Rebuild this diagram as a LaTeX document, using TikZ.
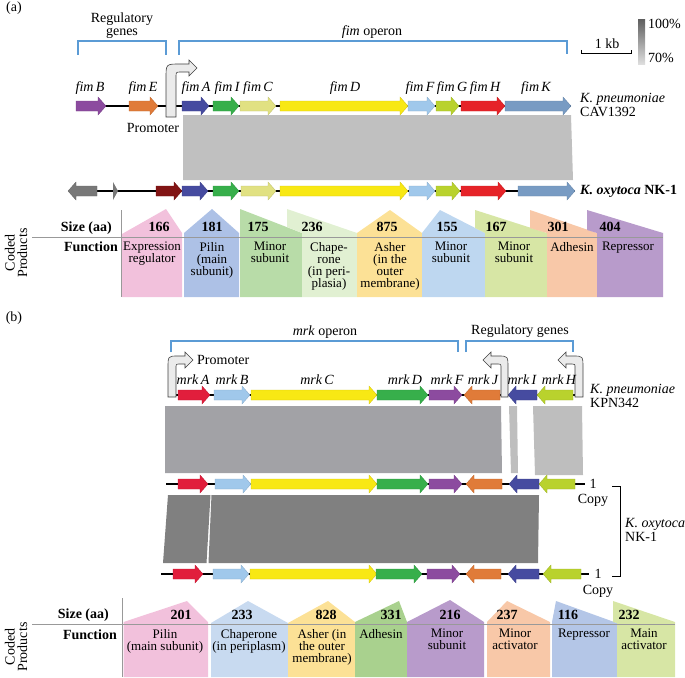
\documentclass[tikz,border=0pt]{standalone}
\usepackage{fontspec}
\setmainfont{Liberation Serif}
\usepackage{xcolor}
\usepackage{tikz}
\usetikzlibrary{positioning}
\definecolor{bracketblue}{HTML}{5B9BD5}
\definecolor{gpurple}{HTML}{8C4B9F}
\definecolor{gorange}{HTML}{E07B39}
\definecolor{gnavy}{HTML}{464BA0}
\definecolor{ggreen}{HTML}{37AF4B}
\definecolor{gkhaki}{HTML}{E1E182}
\definecolor{gyellow}{HTML}{F8E814}
\definecolor{gsky}{HTML}{A0C8EB}
\definecolor{glime}{HTML}{B9D22D}
\definecolor{gred}{HTML}{E62328}
\definecolor{gcrimson}{HTML}{E11E3C}
\definecolor{gsteel}{HTML}{789BC3}
\definecolor{ggray}{HTML}{787878}
\definecolor{gmaroon}{HTML}{821414}
\definecolor{ppink}{HTML}{F2C1DC}
\definecolor{pblue}{HTML}{ADC1E6}
\definecolor{pbluetwo}{HTML}{B4C6E7}
\definecolor{pgreen}{HTML}{B8DCA8}
\definecolor{pgreentwo}{HTML}{A9D18E}
\definecolor{pmint}{HTML}{E1F0D2}
\definecolor{pyellow}{HTML}{FCE196}
\definecolor{psky}{HTML}{BED7F0}
\definecolor{pskytwo}{HTML}{C8DAF0}
\definecolor{plime}{HTML}{D7E6A5}
\definecolor{ppeach}{HTML}{F8C8A8}
\definecolor{plilac}{HTML}{B89BCB}
\definecolor{blocka}{HTML}{C0C0C0}
\definecolor{blockb}{HTML}{A2A2A6}
\definecolor{blockc}{HTML}{BEBEBE}
\definecolor{blockd}{HTML}{808080}
% gene arrows: colour, start, tip, row
\newcommand{\gener}[4]{\filldraw[fill=#1, draw=#1!85!black, line width=0.3pt]
  (#2,#4-5) -- (#3-8,#4-5) -- (#3-8,#4-9) -- (#3,#4) -- (#3-8,#4+9) -- (#3-8,#4+5) -- (#2,#4+5) -- cycle;}
\newcommand{\genel}[4]{\filldraw[fill=#1, draw=#1!85!black, line width=0.3pt]
  (#2,#4) -- (#2+8,#4-9) -- (#2+8,#4-5) -- (#3,#4-5) -- (#3,#4+5) -- (#2+8,#4+5) -- (#2+8,#4+9) -- cycle;}

\begin{document}
\begin{tikzpicture}[x=1pt, y=-1pt,
  lbl/.style={font=\fontsize{14}{13.5}\selectfont, inner sep=0pt},
  genetxt/.style={font=\fontsize{14}{12}\selectfont\itshape, inner sep=0pt},
  numtxt/.style={font=\fontsize{14}{12}\selectfont\bfseries, inner sep=0pt},
  functxt/.style={font=\fontsize{13}{12}\selectfont, inner sep=0pt, align=center, anchor=north},
  brk/.style={bracketblue, line width=1.1pt},
  promo/.style={fill=black!8, draw=black!75, line width=0.6pt},
  dna/.style={line width=1.6pt}]
\useasboundingbox (0,0) rectangle (685,677);

%% (a) fim cluster
\node[lbl] (taga) at (14,8) {(a)};
\node[lbl, align=center, font=\fontsize{14}{13}\selectfont] (regla) at (122,26) {Regulatory\\genes};
\draw[brk] (78,55) -- (78,41) -- (166,41) -- (166,55);
\node[lbl] (fimop) at (372,32) {\textit{fim} operon};
\draw[brk] (179,55) -- (179,41) -- (567,41) -- (567,54);

% scale and identity
\node[lbl] (kb) at (607,44) {1 kb};
\draw[line width=0.8pt] (581,50) -- (581,53) -- (631,53) -- (631,50);
\shade[top color=black!62, bottom color=black!12] (638,20) rectangle (645,65);
\node[lbl, anchor=west] (hundred) at (648,24) {100\%};
\node[lbl, anchor=west] (seventy) at (648,58) {70\%};

\fill[blocka] (183,115) -- (571,115) -- (573,180) -- (183,180) -- cycle;

% K. pneumoniae CAV1392
\draw[dna] (76,106) -- (571,106);
\gener{gpurple}{76}{106}{106}
\gener{gorange}{129}{158}{106}
\gener{gnavy}{182}{209}{106}
\gener{ggreen}{213}{239}{106}
\gener{gkhaki}{240}{276}{106}
\gener{gyellow}{280}{408}{106}
\gener{gsky}{408}{435}{106}
\gener{glime}{436}{459}{106}
\gener{gred}{461}{505}{106}
\gener{gsteel}{505}{571}{106}
\filldraw[promo] (166,117) -- (166,78) .. controls (166,64) .. (180,64) -- (189,64) -- (189,60) -- (197,68)
  -- (189,76) -- (189,72) -- (181,72) .. controls (176,72) .. (176,77) -- (176,117) -- cycle;
\node[lbl] (proma) at (153,128) {Promoter};
\node[genetxt] (fimB) at (90,88) {fim\,B};
\node[genetxt] (fimE) at (143,88) {fim\,E};
\node[genetxt] (fimA) at (196,88) {fim\,A};
\node[genetxt] (fimI) at (227,88) {fim\,I};
\node[genetxt] (fimC) at (258,88) {fim\,C};
\node[genetxt] (fimD) at (345,88) {fim\,D};
\node[genetxt] (fimF) at (420,88) {fim\,F};
\node[genetxt] (fimG) at (452,88) {fim\,G};
\node[genetxt] (fimH) at (485,88) {fim\,H};
\node[genetxt] (fimK) at (536,88) {fim\,K};
\node[lbl, anchor=west, align=left] (kpa) at (580,105) {\textit{K. pneumoniae}\\CAV1392};

% K. oxytoca NK-1
\draw[dna] (80,191) -- (575,191);
\genel{ggray}{68}{97}{191}
\fill[ggray] (113,182) -- (118,191) -- (113,200) -- cycle;
\gener{gmaroon}{156}{182}{191}
\gener{gnavy}{182}{208}{191}
\gener{ggreen}{213}{239}{191}
\gener{gkhaki}{241}{276}{191}
\gener{gyellow}{280}{408}{191}
\gener{gsky}{409}{435}{191}
\gener{glime}{436}{460}{191}
\gener{gred}{461}{506}{191}
\gener{gsteel}{518}{575}{191}
\node[lbl, anchor=west] (koa) at (580,191) {\textbf{\textit{K. oxytoca}} \textbf{NK-1}};

% coded products (a)
\fill[ppink] (122,297) -- (122,234) -- (166,209) -- (182,233) -- (182,297) -- cycle;
\fill[pblue] (184,297) -- (184,233) -- (212,209) -- (239,233) -- (239,297) -- cycle;
\fill[pgreen] (240,297) -- (240,209) -- (302,233) -- (302,297) -- cycle;
\fill[pmint] (287,209) -- (357,233) -- (357,297) -- (302,297) -- (302,233) -- (287,227) -- cycle;
\fill[pyellow] (357,297) -- (357,233) -- (390,210) -- (422,233) -- (422,297) -- cycle;
\fill[psky] (422,297) -- (422,233) -- (440,210) -- (485,233) -- (485,297) -- cycle;
\fill[plime] (475,210) -- (547,233) -- (547,297) -- (485,297) -- (485,233) -- (475,228) -- cycle;
\fill[ppeach] (530,210) -- (597,233) -- (597,297) -- (547,297) -- (547,233) -- (530,228) -- cycle;
\fill[plilac] (587,210) -- (663,233) -- (663,297) -- (597,297) -- (597,233) -- (587,230) -- cycle;
\draw[black!40, line width=1pt] (32,237) -- (663,237);
\draw[black!40, line width=1pt] (121,210) -- (121,297);
\node[lbl, rotate=90, align=center, font=\fontsize{14}{12.5}\selectfont] (cpa) at (16,253) {Coded\\Products};
\node[numtxt, anchor=east] (sizea) at (112,228) {Size (aa)};
\node[numtxt, anchor=east] (funca) at (118,247) {Function};
\node[numtxt] (na1) at (159,227) {166};
\node[numtxt] (na2) at (212,227) {181};
\node[numtxt] (na3) at (258,227) {175};
\node[numtxt] (na4) at (312,227) {236};
\node[numtxt] (na5) at (387,227) {875};
\node[numtxt] (na6) at (447,227) {155};
\node[numtxt] (na7) at (496,227) {167};
\node[numtxt] (na8) at (558,227) {301};
\node[numtxt] (na9) at (610,227) {404};
\node[functxt] (fa1) at (152,242) {Expression\\regulator};
\node[functxt] (fa2) at (212,242) {Pilin\\(main\\subunit)};
\node[functxt] (fa3) at (270,242) {Minor\\subunit};
\node[functxt] (fa4) at (329,242) {Chape-\\rone\\(in peri-\\plasia)};
\node[functxt] (fa5) at (390,242) {Asher\\(in the\\outer\\membrane)};
\node[functxt] (fa6) at (451,242) {Minor\\subunit};
\node[functxt] (fa7) at (514,242) {Minor\\subunit};
\node[functxt] (fa8) at (572,242) {Adhesin};
\node[functxt] (fa9) at (628,242) {Repressor};

%% (b) mrk cluster
\node[lbl] (tagb) at (14,318) {(b)};
\node[lbl] (mrkop) at (325,332) {\textit{mrk} operon};
\draw[brk] (171,352) -- (171,341) -- (458,341) -- (458,352);
\node[lbl] (reglb) at (520,331) {Regulatory genes};
\draw[brk] (466,352) -- (466,341) -- (573,341) -- (573,352);

\fill[blockb] (165,406) -- (501,406) -- (502,473) -- (165,473) -- cycle;
\fill[blockc] (509,406) -- (517,406) -- (518,473) -- (511,473) -- cycle;
\fill[blockc] (533,406) -- (582,406) -- (583,475) -- (535,475) -- cycle;
\fill[blockd] (168,495) -- (210.5,495) -- (206.5,563) -- (163,563) -- cycle;
\fill[blockd] (211.5,495) -- (539,495) -- (538,563) -- (208.5,563) -- cycle;

% K. pneumoniae KPN342
\draw[dna] (168,395) -- (583,395);
\gener{gcrimson}{178}{210}{395}
\gener{gsky}{214}{250}{395}
\gener{gyellow}{251}{377}{395}
\gener{ggreen}{377}{428}{395}
\gener{gpurple}{429}{462}{395}
\genel{gorange}{464}{500}{395}
\genel{gnavy}{508}{537}{395}
\genel{glime}{537}{573}{395}
\filldraw[promo] (168,397) -- (168,368) .. controls (168,356) .. (178,356) -- (185,356) -- (185,352) -- (193,360)
  -- (185,368) -- (185,364) -- (180,364) .. controls (176,364) .. (176,368) -- (176,397) -- cycle;
\filldraw[promo] (508,397) -- (508,368) .. controls (508,356) .. (498,356) -- (491,356) -- (491,352) -- (483,360)
  -- (491,368) -- (491,364) -- (497,364) .. controls (501,364) .. (501,368) -- (501,397) -- cycle;
\filldraw[promo] (583,397) -- (583,368) .. controls (583,356) .. (573,356) -- (566,356) -- (566,352) -- (558,360)
  -- (566,368) -- (566,364) -- (572,364) .. controls (575,364) .. (575,368) -- (575,397) -- cycle;
\node[lbl, anchor=west] (promb) at (197,360) {Promoter};
\node[genetxt] (mrkA) at (193,380) {mrk\,A};
\node[genetxt] (mrkB) at (232,380) {mrk\,B};
\node[genetxt] (mrkC) at (317,380) {mrk\,C};
\node[genetxt] (mrkD) at (405,380) {mrk\,D};
\node[genetxt] (mrkF) at (447,380) {mrk\,F};
\node[genetxt] (mrkJ) at (483,380) {mrk\,J};
\node[genetxt] (mrkI) at (522,380) {mrk\,I};
\node[genetxt] (mrkH) at (559,380) {mrk\,H};
\node[lbl, anchor=west, align=left] (kpb) at (590,396) {\textit{K. pneumoniae}\\KPN342};

% K. oxytoca NK-1, two copies
\draw[dna] (166,484) -- (585,484);
\gener{gcrimson}{178}{208}{484}
\gener{gsky}{215}{251}{484}
\gener{gyellow}{251}{377}{484}
\gener{ggreen}{377}{428}{484}
\gener{gpurple}{429}{462}{484}
\genel{gorange}{466}{502}{484}
\genel{gnavy}{509}{539}{484}
\genel{glime}{539}{575}{484}
\node[lbl] (one1) at (593,484) {1};
\node[lbl] (copy1) at (593,500) {Copy};

\draw[dna] (161,574) -- (589,574);
\gener{gcrimson}{173}{203}{574}
\gener{gsky}{213}{249}{574}
\gener{gyellow}{250}{377}{574}
\gener{ggreen}{376}{422}{574}
\gener{gpurple}{427}{460}{574}
\genel{gorange}{466}{501}{574}
\genel{gnavy}{508}{539}{574}
\genel{glime}{543}{581}{574}
\node[lbl] (one2) at (598,574) {1};
\node[lbl] (copy2) at (598,591) {Copy};

\draw[line width=0.9pt] (612,486) -- (620,486) -- (620,576) -- (612,576);
\node[lbl, anchor=west, align=left] (kob) at (625,530) {\textit{K. oxytoca}\\NK-1};

% coded products (b)
\fill[ppink] (123.5,677) -- (123.5,622) -- (187,601) -- (208,622) -- (208,677) -- cycle;
\fill[pskytwo] (211,677) -- (211,623) -- (248,601) -- (288,623) -- (288,677) -- cycle;
\fill[pyellow] (288,677) -- (288,623) -- (328,601) -- (355,622) -- (355,677) -- cycle;
\fill[pgreentwo] (355,677) -- (355,622) -- (399,601) -- (407,622) -- (407,677) -- cycle;
\fill[plilac] (407,677) -- (407,622) -- (450,600) -- (484,622) -- (484,677) -- cycle;
\fill[ppeach] (487,677) -- (487,622) -- (507,601) -- (550,622) -- (550,677) -- cycle;
\fill[pbluetwo] (552,677) -- (552,622) -- (556,601) -- (617,623) -- (617,677) -- cycle;
\fill[plime] (613,601) -- (675,622) -- (675,677) -- (617,677) -- (617,623) -- (613,622) -- cycle;
\draw[black!40, line width=1pt] (32,624) -- (675,624);
\draw[black!40, line width=1pt] (122,598) -- (122,677);
\node[lbl, rotate=90, align=center, font=\fontsize{14}{12.5}\selectfont] (cpb) at (16,647) {Coded\\Products};
\node[numtxt, anchor=east] (sizeb) at (109,615) {Size (aa)};
\node[numtxt, anchor=east] (funcb) at (117,635) {Function};
\node[numtxt] (nb1) at (181,615) {201};
\node[numtxt] (nb2) at (242,615) {233};
\node[numtxt] (nb3) at (326,615) {828};
\node[numtxt] (nb4) at (391,615) {331};
\node[numtxt] (nb5) at (450,615) {216};
\node[numtxt] (nb6) at (507,615) {237};
\node[numtxt] (nb7) at (568,615) {116};
\node[numtxt] (nb8) at (629,615) {232};
\node[functxt] (fb1) at (165,629) {Pilin\\(main subunit)};
\node[functxt] (fb2) at (249,629) {Chaperone\\(in periplasm)};
\node[functxt] (fb3) at (322,629) {Asher (in\\the outer\\membrane)};
\node[functxt] (fb4) at (381,629) {Adhesin};
\node[functxt] (fb5) at (447,629) {Minor\\subunit};
\node[functxt] (fb6) at (515,629) {Minor\\activator};
\node[functxt] (fb7) at (584,629) {Repressor};
\node[functxt] (fb8) at (644,629) {Main\\activator};
\end{tikzpicture}
\end{document}
